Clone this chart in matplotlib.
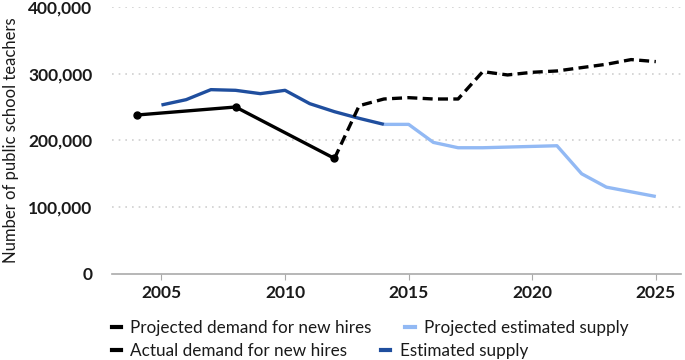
import matplotlib
matplotlib.use("Agg")
import matplotlib.pyplot as plt
from matplotlib.ticker import FuncFormatter
from matplotlib.lines import Line2D

plt.rcParams['font.family'] = ['Lato', 'DejaVu Sans']

actual_years = [2004, 2008, 2012]
actual_demand = [238000, 250000, 173000]

proj_dem_years = list(range(2012, 2026))
proj_demand = [173000, 252000, 262000, 264000, 262000, 262000, 303000, 298000,
               302000, 304000, 309000, 314000, 321000, 318000]

supply_years = list(range(2005, 2015))
est_supply = [253000, 261000, 276000, 275000, 270000, 275000, 255000, 243000, 233000, 224000]

proj_sup_years = list(range(2014, 2026))
proj_supply = [224000, 224000, 197000, 189000, 189000, 190000, 191000, 192000,
               150000, 130000, 123000, 116000]

xticks = [2005, 2010, 2015, 2020, 2025]
yticks = [0, 100000, 200000, 300000, 400000]

dark_blue = '#1f4e9e'
light_blue = '#92b9f4'

fig = plt.figure(figsize=(6.85, 3.6), dpi=100)
ax = fig.add_axes([0.1635, 0.239, 0.83, 0.742])

for y in yticks[1:]:
    ax.axhline(y, color='#cfcfcf', lw=1.2, ls=(0, (1, 3)), zorder=0)

ax.plot(proj_sup_years, proj_supply, color=light_blue, lw=2.4, solid_capstyle='butt')
ax.plot(supply_years, est_supply, color=dark_blue, lw=2.4, solid_capstyle='butt')
ax.plot(proj_dem_years, proj_demand, color='black', lw=2.4, ls=(0, (3, 1.6)))
ax.plot(actual_years, actual_demand, color='black', lw=2.4, marker='o', ms=5)

ax.set_xlim(2003, 2026)
ax.set_ylim(0, 400000)
ax.set_xticks(xticks)
ax.set_yticks(yticks)
ax.yaxis.set_major_formatter(FuncFormatter(lambda v, p: f'{int(v):,}'))
for s in ['top', 'right', 'left']:
    ax.spines[s].set_visible(False)
ax.spines['bottom'].set_color('#aaaaaa')
ax.spines['bottom'].set_linewidth(1.2)
ax.tick_params(axis='y', length=0, labelsize=12.5, pad=14, colors='#1a1a1a')
ax.tick_params(axis='x', length=4, color='#aaaaaa', labelsize=12.5, pad=4, labelcolor='#1a1a1a')
for lab in ax.get_xticklabels() + ax.get_yticklabels():
    lab.set_fontweight('bold')

fig.text(0.016, 0.61, 'Number of public school teachers', rotation=90, ha='center',
         va='center', fontsize=12, color='#1a1a1a')

leg_kw = dict(ncol=2, loc='center left', frameon=False, handlelength=0.55,
              handletextpad=0.55, columnspacing=1.95, fontsize=12.3,
              borderpad=0, borderaxespad=0)
leg1 = fig.legend([Line2D([], [], color='black', lw=3), Line2D([], [], color=light_blue, lw=3)],
                  ['Projected demand for new hires', 'Projected estimated supply'],
                  bbox_to_anchor=(0.163, 1 - 328 / 360), **leg_kw)
leg2 = fig.legend([Line2D([], [], color='black', lw=3), Line2D([], [], color=dark_blue, lw=3)],
                  ['Actual demand for new hires', 'Estimated supply'],
                  bbox_to_anchor=(0.163, 1 - 351 / 360), **leg_kw)
for leg in (leg1, leg2):
    for t in leg.get_texts():
        t.set_color('#1a1a1a')

fig.savefig('out.png', dpi=100)
